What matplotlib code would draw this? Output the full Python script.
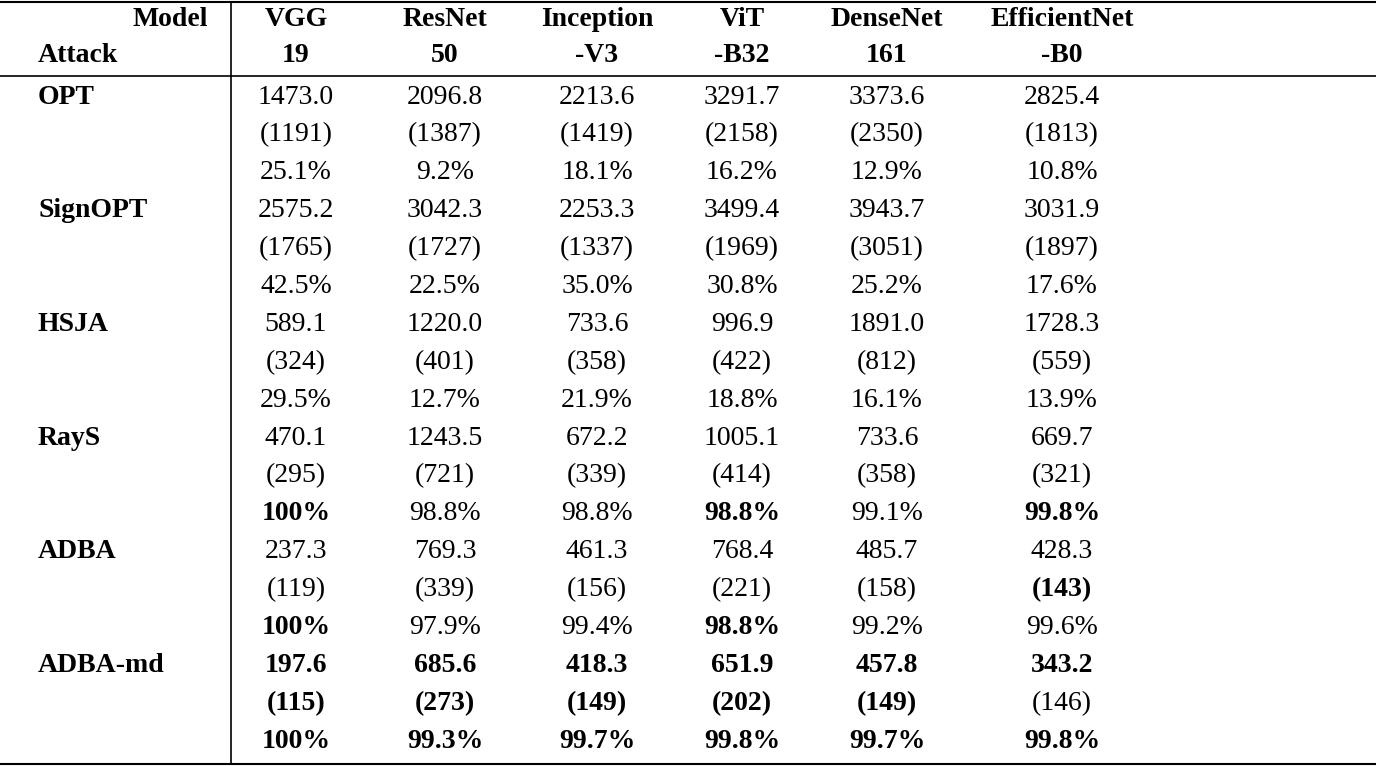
import matplotlib.pyplot as plt

models_l1 = ["VGG", "ResNet", "Inception", "ViT", "DenseNet", "EfficientNet"]
models_l2 = ["19", "50", "-V3", "-B32", "161", "-B0"]
attacks = ["OPT", "SignOPT", "HSJA", "RayS", "ADBA", "ADBA-md"]
mean_q = [[1473.0, 2096.8, 2213.6, 3291.7, 3373.6, 2825.4],
          [2575.2, 3042.3, 2253.3, 3499.4, 3943.7, 3031.9],
          [589.1, 1220.0, 733.6, 996.9, 1891.0, 1728.3],
          [470.1, 1243.5, 672.2, 1005.1, 733.6, 669.7],
          [237.3, 769.3, 461.3, 768.4, 485.7, 428.3],
          [197.6, 685.6, 418.3, 651.9, 457.8, 343.2]]
median_q = [[1191, 1387, 1419, 2158, 2350, 1813],
            [1765, 1727, 1337, 1969, 3051, 1897],
            [324, 401, 358, 422, 812, 559],
            [295, 721, 339, 414, 358, 321],
            [119, 339, 156, 221, 158, 143],
            [115, 273, 149, 202, 149, 146]]
asr = [["25.1%", "9.2%", "18.1%", "16.2%", "12.9%", "10.8%"],
       ["42.5%", "22.5%", "35.0%", "30.8%", "25.2%", "17.6%"],
       ["29.5%", "12.7%", "21.9%", "18.8%", "16.1%", "13.9%"],
       ["100%", "98.8%", "98.8%", "98.8%", "99.1%", "99.8%"],
       ["100%", "97.9%", "99.4%", "98.8%", "99.2%", "99.6%"],
       ["100%", "99.3%", "99.7%", "99.8%", "99.7%", "99.8%"]]
bold_mean = [[0]*6]*5 + [[1]*6]
bold_med = [[0]*6]*4 + [[0, 0, 0, 0, 0, 1], [1, 1, 1, 1, 1, 0]]
bold_asr = [[0]*6]*3 + [[1, 0, 0, 1, 0, 1], [1, 0, 0, 1, 0, 0], [1]*6]

W, H = 1376, 766
fig = plt.figure(figsize=(13.76, 7.66), dpi=100)
ax = fig.add_axes([0, 0, 1, 1])
ax.set_xlim(0, W); ax.set_ylim(H, 0); ax.axis('off')
fam = ['Liberation Serif', 'DejaVu Serif']
fs = 20
colx = [296, 445, 597, 742, 887, 1062]

def t(x, y, s, bold=False, ha='center'):
    ax.text(x, y, s, ha=ha, va='center', fontsize=fs, family=fam,
            fontweight='bold' if bold else 'normal')

t(208, 19, "Model", True, 'right')
t(38, 56, "Attack", True, 'left')
for i, x in enumerate(colx):
    t(x, 19, models_l1[i], True)
    t(x, 56, models_l2[i], True)

y0, dy = 97, 37.9
for a, name in enumerate(attacks):
    yb = y0 + 3*a*dy
    t(38, yb, name, True, 'left')
    for i, x in enumerate(colx):
        t(x, yb, f"{mean_q[a][i]:.1f}", bold_mean[a][i])
        t(x, yb + dy, f"({median_q[a][i]})", bold_med[a][i])
        t(x, yb + 2*dy, asr[a][i], bold_asr[a][i])

ax.plot([0, W], [2, 2], color='black', lw=1.5)
ax.plot([0, W], [76, 76], color='black', lw=1.2)
ax.plot([0, W], [764, 764], color='black', lw=1.5)
ax.plot([231, 231], [2, 764], color='black', lw=1.2)
fig.savefig("out.png", dpi=100)
